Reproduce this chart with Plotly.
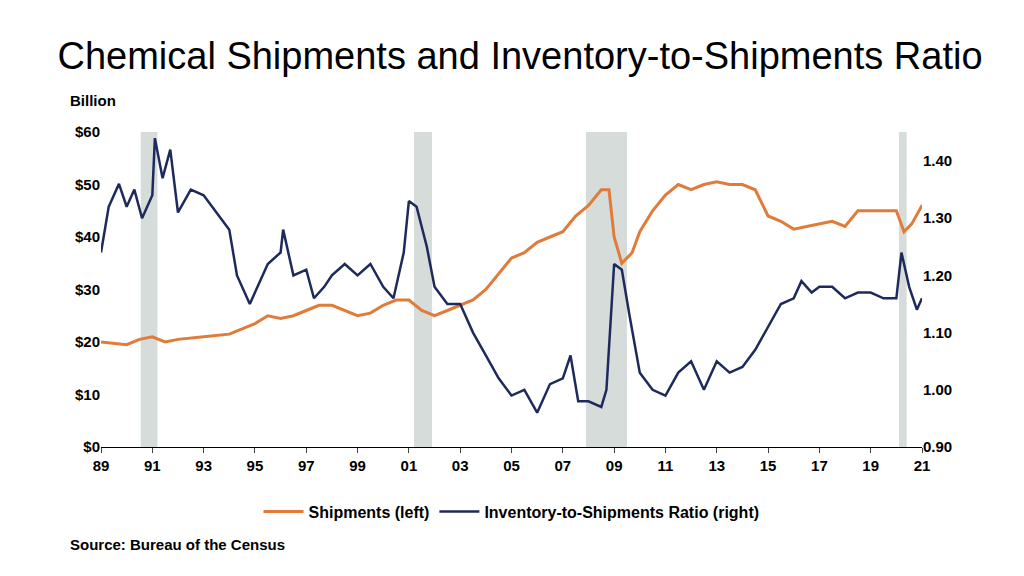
import plotly.graph_objects as go

ship_x = [1989,1990,1990.5,1991,1991.5,1992,1993,1994,1995,1995.5,1996,1996.5,1997,1997.5,1998,1998.5,1999,1999.5,2000,2000.5,2001,2001.5,2002,2002.5,2003,2003.5,2004,2004.5,2005,2005.5,2006,2006.5,2007,2007.5,2008,2008.5,2008.8,2009,2009.3,2009.7,2010,2010.5,2011,2011.5,2012,2012.5,2013,2013.5,2014,2014.5,2015,2015.5,2016,2016.5,2017,2017.5,2018,2018.5,2019,2019.5,2020,2020.3,2020.6,2021,2021.1]
ship_y = [20,19.5,20.5,21,20,20.5,21,21.5,23.5,25,24.5,25,26,27,27,26,25,25.5,27,28,28,26,25,26,27,28,30,33,36,37,39,40,41,44,46,49,49,40,35,37,41,45,48,50,49,50,50.5,50,50,49,44,43,41.5,42,42.5,43,42,45,45,45,45,41,42.5,46,45]
ratio_x = [1989,1989.3,1989.7,1990,1990.3,1990.6,1991,1991.1,1991.4,1991.7,1992,1992.5,1993,1993.5,1994,1994.3,1994.8,1995,1995.5,1996,1996.1,1996.5,1997,1997.3,1997.7,1998,1998.5,1999,1999.5,2000,2000.4,2000.8,2001,2001.3,2001.7,2002,2002.5,2003,2003.5,2004,2004.5,2005,2005.5,2006,2006.5,2007,2007.3,2007.6,2008,2008.5,2008.7,2009,2009.3,2009.6,2010,2010.5,2011,2011.5,2012,2012.5,2013,2013.5,2014,2014.5,2015,2015.5,2016,2016.3,2016.7,2017,2017.5,2018,2018.5,2019,2019.5,2020,2020.2,2020.5,2020.8,2021]
ratio_y = [1.24,1.32,1.36,1.32,1.35,1.30,1.34,1.44,1.37,1.42,1.31,1.35,1.34,1.31,1.28,1.20,1.15,1.17,1.22,1.24,1.28,1.20,1.21,1.16,1.18,1.20,1.22,1.20,1.22,1.18,1.16,1.24,1.33,1.32,1.25,1.18,1.15,1.15,1.10,1.06,1.02,0.99,1.00,0.96,1.01,1.02,1.06,0.98,0.98,0.97,1.00,1.22,1.21,1.13,1.03,1.00,0.99,1.03,1.05,1.00,1.05,1.03,1.04,1.07,1.11,1.15,1.16,1.19,1.17,1.18,1.18,1.16,1.17,1.17,1.16,1.16,1.24,1.18,1.14,1.16]
recessions = [(1990.55,1991.2),(2001.2,2001.9),(2007.9,2009.5),(2020.1,2020.4)]
tick_vals = list(range(1989,2022,2))
tick_text = ["%02d" % (v % 100) for v in tick_vals]

fig = go.Figure()
fig.add_trace(go.Scatter(x=ship_x, y=ship_y, name="Shipments (left)", mode="lines",
                         line=dict(color="#E07B39", width=3)))
fig.add_trace(go.Scatter(x=ratio_x, y=ratio_y, name="Inventory-to-Shipments Ratio (right)", mode="lines",
                         line=dict(color="#1F2A5C", width=2.5), yaxis="y2"))
for a, b in recessions:
    fig.add_vrect(x0=a, x1=b, fillcolor="#D5DCDA", line_width=0, layer="below")

font = dict(family="Liberation Sans, Arial", size=15, color="black")
fig.update_layout(
    width=1024, height=576, plot_bgcolor="white", paper_bgcolor="white",
    margin=dict(l=93, r=110, t=124, b=137),
    title=dict(text="Chemical Shipments and Inventory-to-Shipments Ratio", x=0.5, y=0.94,
               xanchor="center", font=dict(family="Liberation Sans, Arial", size=38, color="black")),
    font=font,
    xaxis=dict(range=[1989,2021], tickvals=tick_vals, ticktext=tick_text, showgrid=False,
               showline=True, linecolor="black", ticks="outside", ticklen=5,
               tickfont=dict(size=15, family="Liberation Sans, Arial", weight="bold")),
    yaxis=dict(range=[0,60], tickvals=[0,10,20,30,40,50,60],
               ticktext=["$0","$10","$20","$30","$40","$50","$60"], showgrid=False, zeroline=False,
               tickfont=dict(size=15, family="Liberation Sans, Arial", weight="bold")),
    yaxis2=dict(range=[0.90,1.4507], overlaying="y", side="right", showgrid=False, zeroline=False,
                tickvals=[0.9,1.0,1.1,1.2,1.3,1.4], tickformat=".2f",
                tickfont=dict(size=15, family="Liberation Sans, Arial", weight="bold")),
    legend=dict(orientation="h", x=0.5, xanchor="center", y=-0.205, yanchor="middle",
                font=dict(size=16, family="Liberation Sans, Arial", weight="bold"),
                itemwidth=40),
    showlegend=True,
)
fig.add_annotation(text="<b>Billion</b>", xref="paper", yref="paper", x=-0.04, y=1.10,
                   xanchor="left", yanchor="middle", showarrow=False, font=dict(size=15))
fig.add_annotation(text="<b>Source: Bureau of the Census</b>", xref="paper", yref="paper",
                   x=-0.04, y=-0.31, xanchor="left", yanchor="middle", showarrow=False, font=dict(size=15))
fig.write_html("out.html")
